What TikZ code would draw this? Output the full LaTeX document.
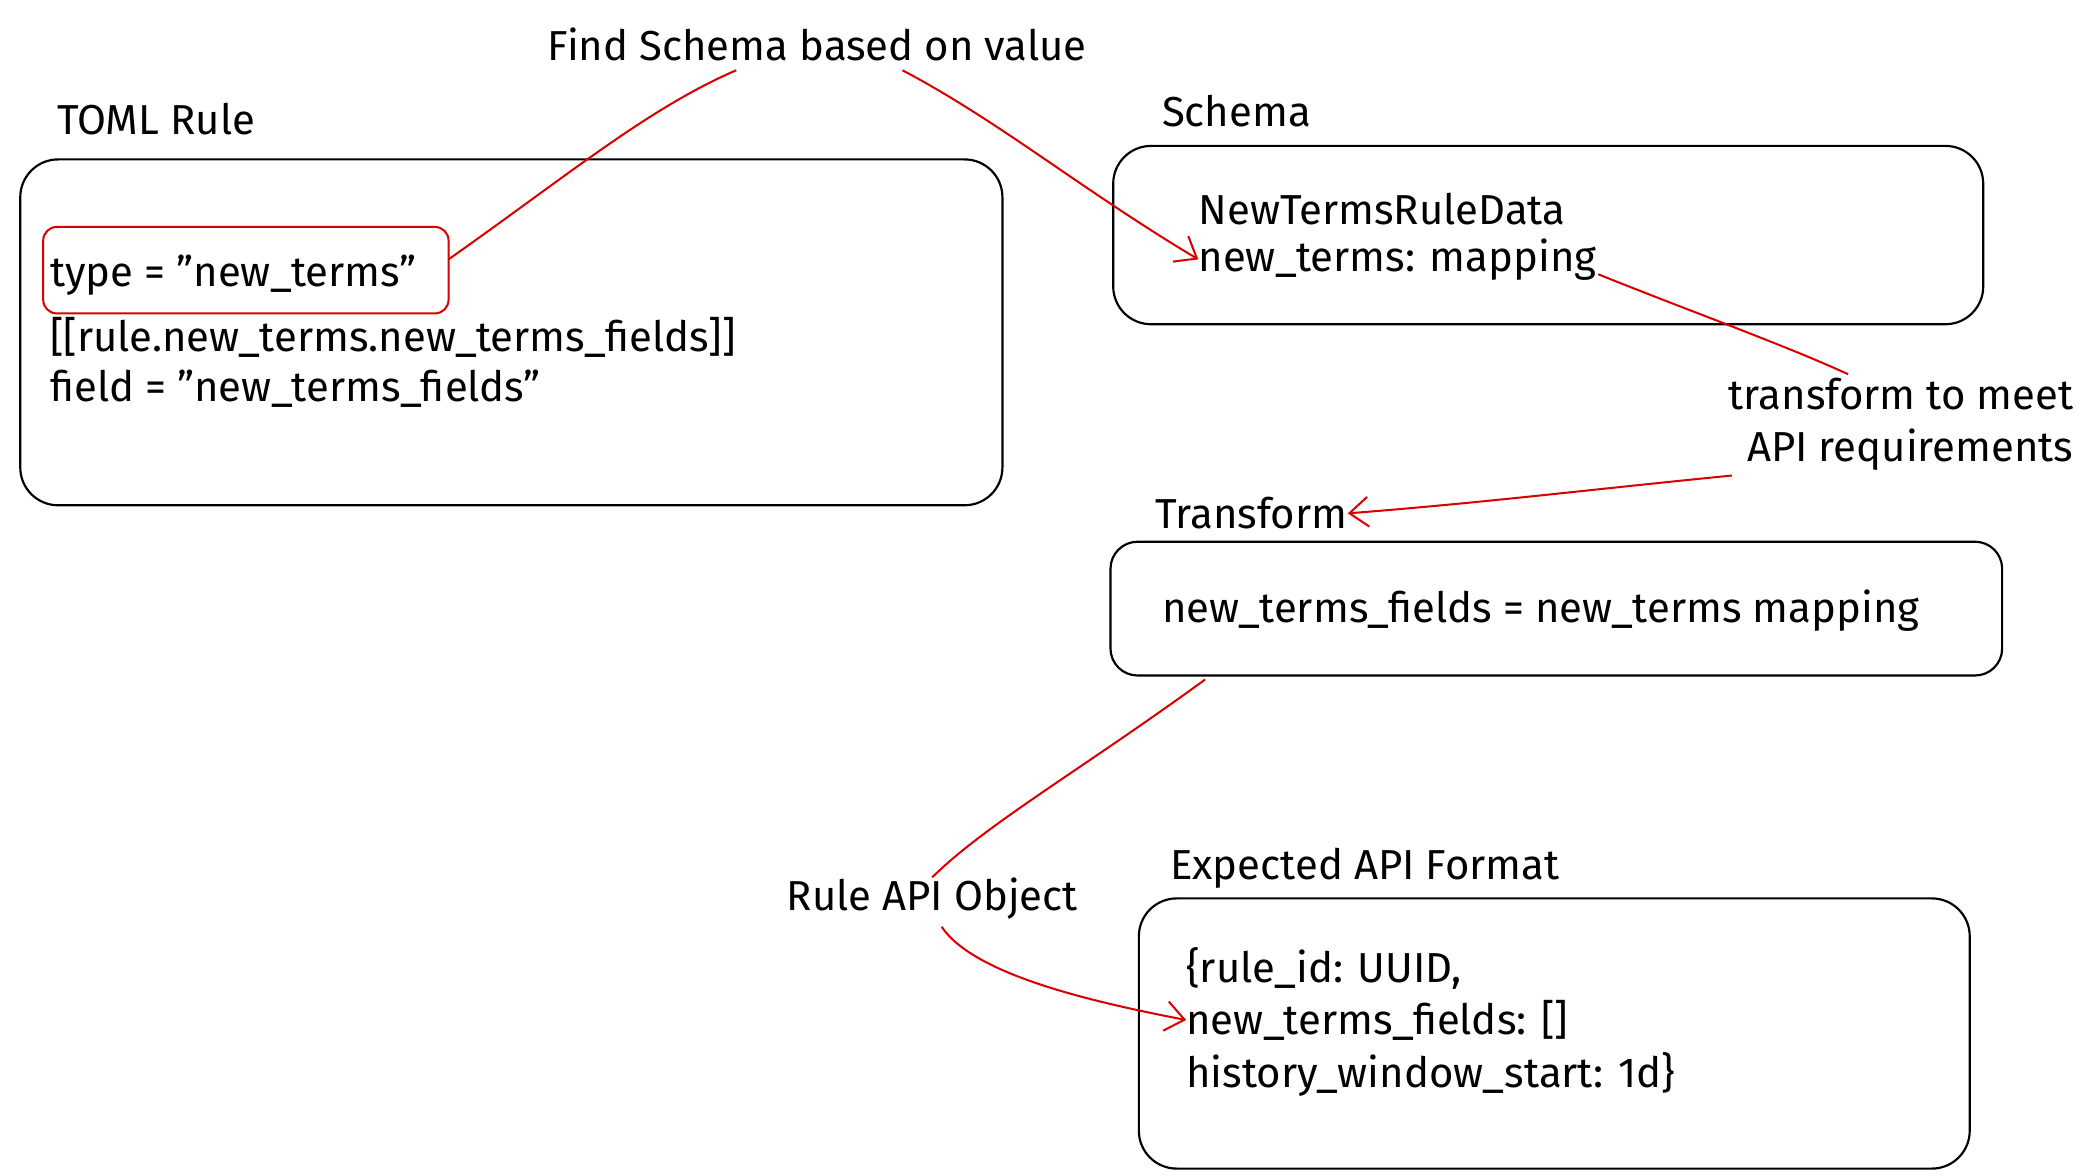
\documentclass[tikz,border=0pt]{standalone}
\usepackage{fontspec}
\setmainfont{Fira Sans}
\usetikzlibrary{arrows.meta}
\newcommand{\dq}{\symbol{34}}
\begin{document}
\begin{tikzpicture}[x=1pt,y=-1pt,
  box/.style={draw=black,line width=1.6pt,rounded corners=28pt},
  txt/.style={font=\fontsize{31}{38}\selectfont,inner sep=0pt,anchor=west},
  red/.style={draw=red!85!black,line width=1.5pt},
  arr/.style={red,-{Straight Barb[length=14pt,width=22pt]}}]
\useasboundingbox (0,0) rectangle (1550,870);
% TOML
\node[txt] (tl) at (42,88) {TOML Rule};
\draw[box] (15,118) rectangle (742,374);
\node[txt] (t1) at (37,204) {type = \dq new\_terms\dq};
\node[txt] (t2) at (37,250) {[[rule.new\_terms.new\_terms\_fields]]};
\node[txt] (t3) at (37,288) {field = \dq new\_terms\_fields\dq};
\draw[red,rounded corners=10pt] (32,168) rectangle (332,232);
\coordinate (rb) at (332,192);
\node[txt,anchor=center] (find) at (605,33) {Find Schema based on value};
% Schema
\node[txt] (sl) at (860,82) {Schema};
\draw[box] (824,108) rectangle (1468,240);
\node[txt] (s1) at (887,155) {NewTermsRuleData};
\node[txt] (s2) at (887,192) {new\_terms: mapping};
% Transform
\node[txt,anchor=east,align=right] (tm) at (1535,314) {transform to meet\\API requirements};
\node[txt] (trl) at (855,380) {Transform};
\draw[box,rounded corners=20pt] (822,401) rectangle (1482,500);
\node[txt] (tr1) at (860,452) {new\_terms\_fields = new\_terms mapping};
% Expected
\node[txt,anchor=center] (rao) at (690,665) {Rule API Object};
\node[txt] (el) at (866,643) {Expected API Format};
\draw[box] (843,665) rectangle (1458,865);
\node[txt] (e1) at (878,717) {\{rule\_id: UUID,};
\node[txt] (e2) at (878,755) {new\_terms\_fields: []};
\node[txt] (e3) at (878,795) {history\_window\_start: 1d\}};
% connectors
\draw[red] (rb) .. controls (420,130) and (480,80) .. (545,52);
\draw[arr] (668,52) .. controls (740,90) and (800,140) .. (s2.west);
\draw[red] (1183,203) .. controls (1250,230) and (1320,255) .. (1368,277);
\draw[arr] (1282,352) .. controls (1180,362) and (1100,372) .. (trl.east);
\draw[red] (892,503) .. controls (800,570) and (730,610) .. (rao.north);
\draw[arr] (697,686) .. controls (720,720) and (800,740) .. (e2.west);
\end{tikzpicture}
\end{document}
